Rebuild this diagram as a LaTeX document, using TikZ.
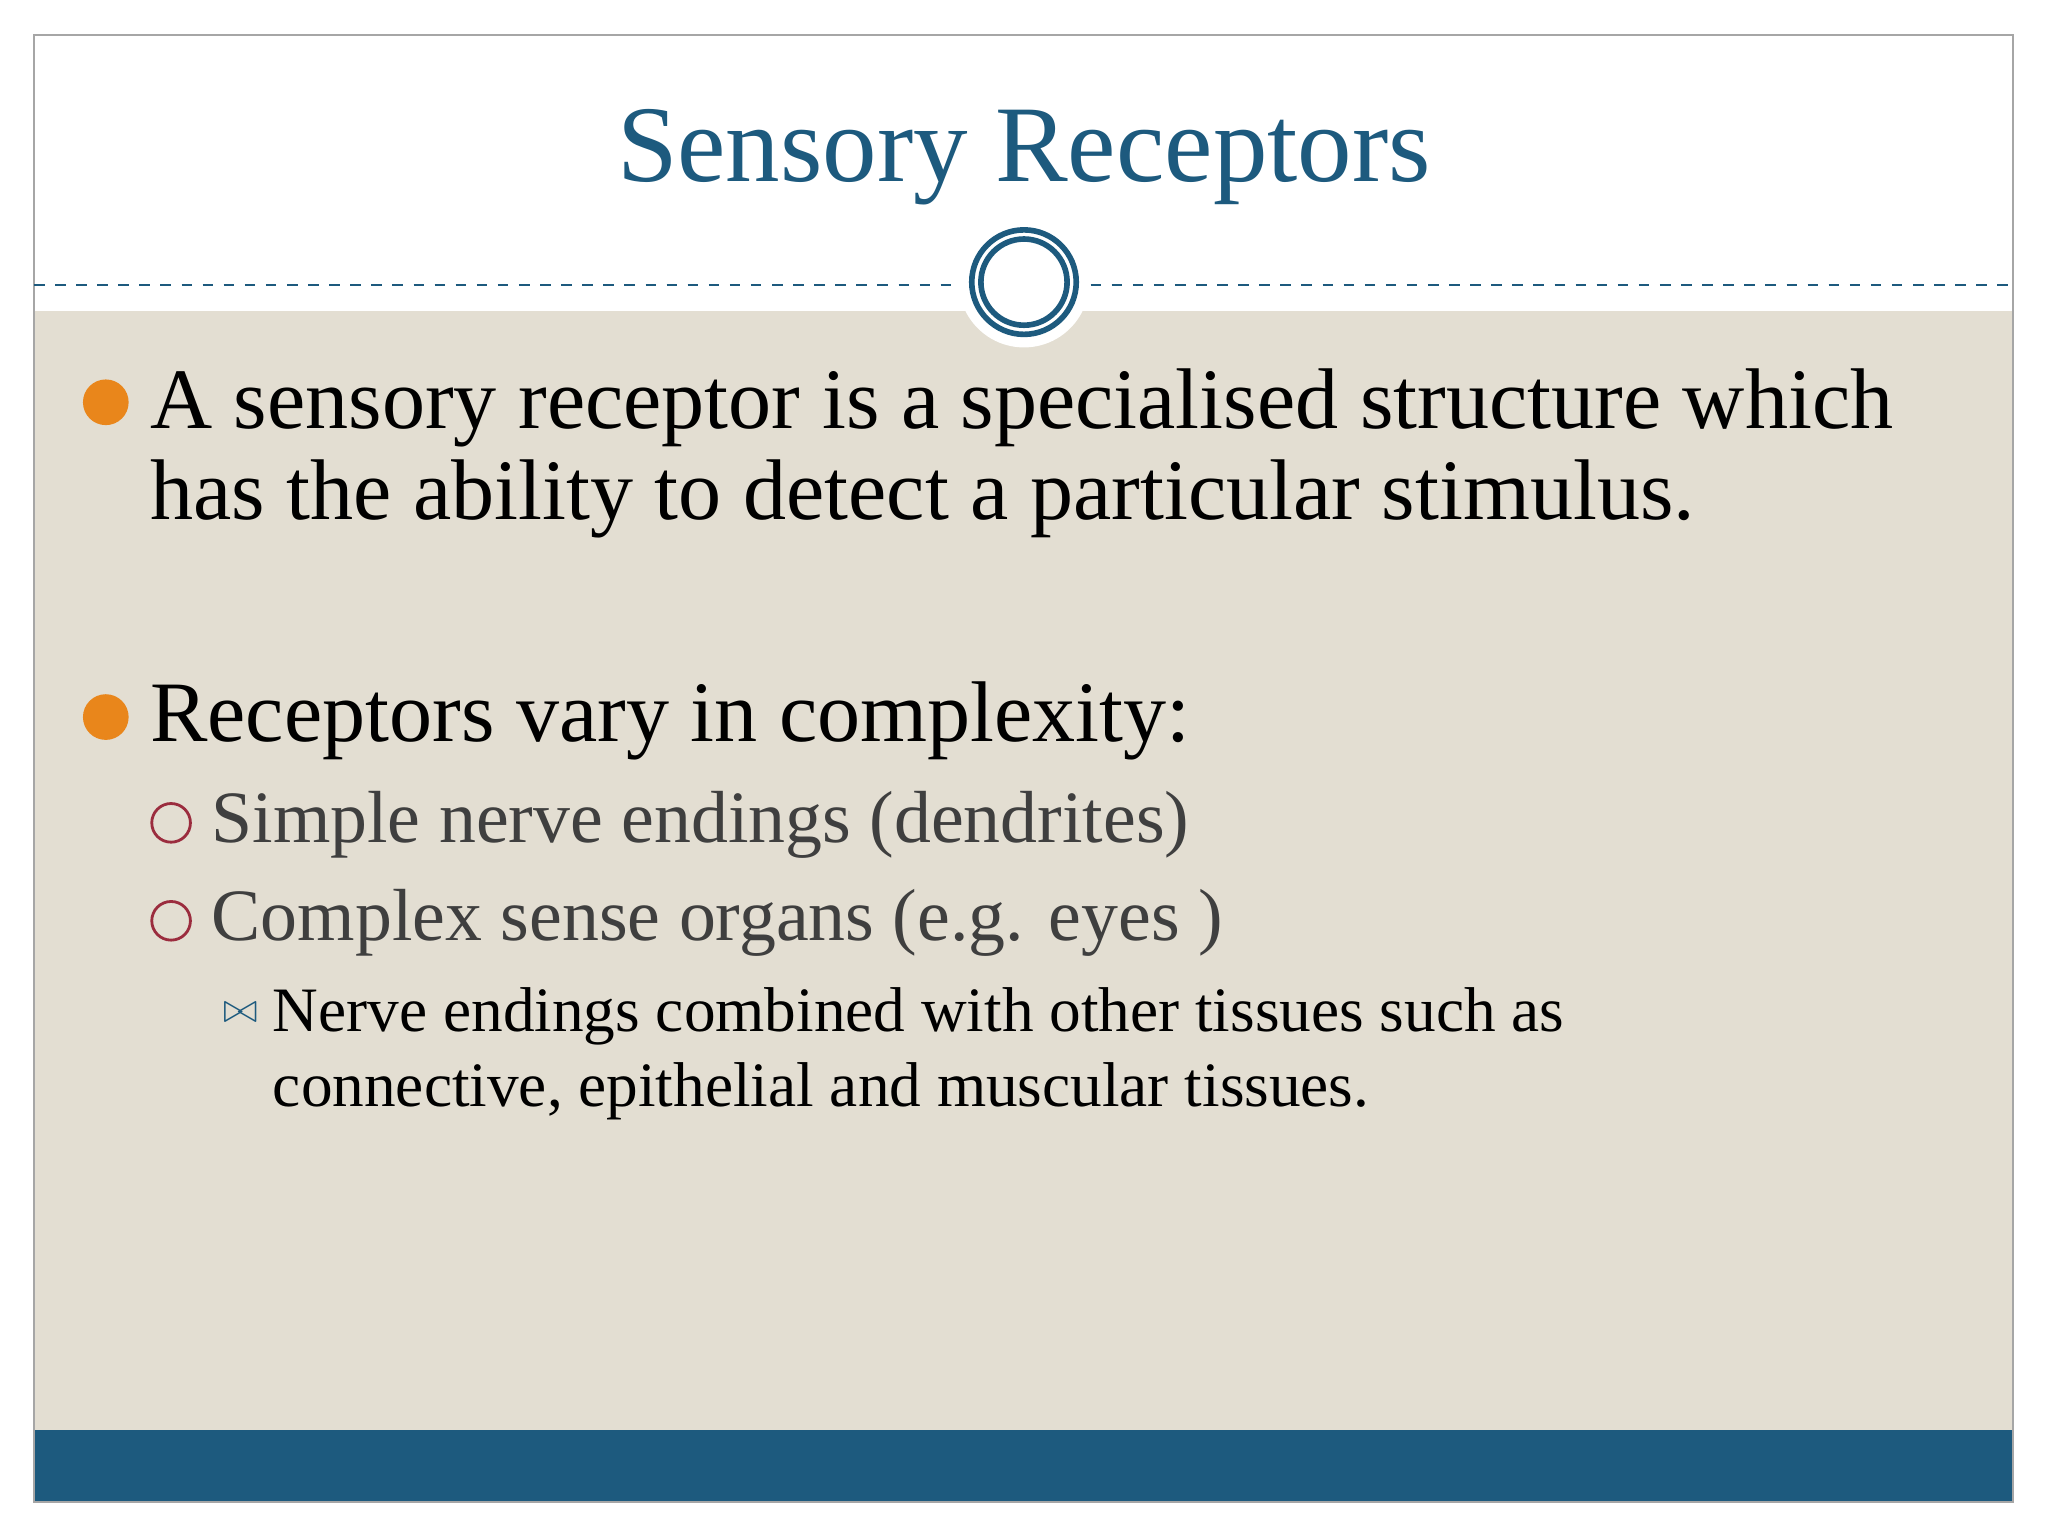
\documentclass[tikz,border=0pt]{standalone}
\usepackage{fontspec}
\setmainfont{Liberation Serif}
\usetikzlibrary{positioning}
\definecolor{slideblue}{HTML}{1D5A7E}
\definecolor{slidebeige}{HTML}{E3DED2}
\definecolor{bulletorange}{HTML}{E9861B}
\definecolor{subred}{HTML}{9B2C3E}
\definecolor{subgray}{HTML}{3F3F3F}
\begin{document}
\begin{tikzpicture}[
    x=0.013061cm, y=-0.013061cm,
    every node/.style={inner sep=0pt, outer sep=0pt},
    titel/.style={font=\fontsize{31}{36}\selectfont, text=slideblue},
    punkt/.style={anchor=base west, font=\fontsize{24.5}{30}\selectfont, text=black},
    under/.style={anchor=base west, font=\fontsize{21}{26}\selectfont, text=subgray},
    underunder/.style={anchor=base west, font=\fontsize{18}{22}\selectfont, text=black, align=left},
    prik/.style={circle, fill=bulletorange, minimum size=13pt},
    ring/.style={circle, draw=subred, line width=0.8pt, minimum size=11pt}
    ]
    \useasboundingbox (0,0) rectangle (1568,1176);
    % background
    \fill[white] (0,0) rectangle (1568,1176);
    \fill[slidebeige] (26,238) rectangle (1541,1095);
    \fill[slideblue] (26,1095) rectangle (1541,1150);
    \draw[gray!70, line width=0.6pt] (26,27) rectangle (1541,1150);
    \draw[slideblue, dashed, line width=0.5pt] (26,218) -- (735,218);
    \draw[slideblue, dashed, line width=0.5pt] (835,218) -- (1541,218);
    \fill[white] (784,216) circle (50);
    \draw[slideblue, line width=1.6pt] (784,216) circle (40);
    \draw[slideblue, line width=1.6pt] (784,216) circle (33);
    % title
    \node[titel] (titel) at (784,120) {Sensory Receptors};
    % bullets
    \node[prik] (p1) at (81,308) {};
    \node[punkt] (t1) at (115,328) {A sensory receptor is a specialised structure which};
    \node[punkt] (t2) at (115,398) {has the ability to detect a particular stimulus.};
    \node[prik] (p2) at (81,549) {};
    \node[punkt] (t3) at (115,568) {Receptors vary in complexity:};
    \node[ring] (r1) at (131,630) {};
    \node[under] (s1) at (162,645) {Simple nerve endings (dendrites)};
    \node[ring] (r2) at (131,705) {};
    \node[under] (s2) at (162,720) {Complex sense organs (e.g. eyes )};
    \node[text=slideblue, font=\fontsize{12}{12}\selectfont] (st) at (184,775) {$\bowtie$};
    \node[underunder] (u1) at (209,790) {Nerve endings combined with other tissues such as};
    \node[underunder] (u2) at (209,847) {connective, epithelial and muscular tissues.};
\end{tikzpicture}
\end{document}
